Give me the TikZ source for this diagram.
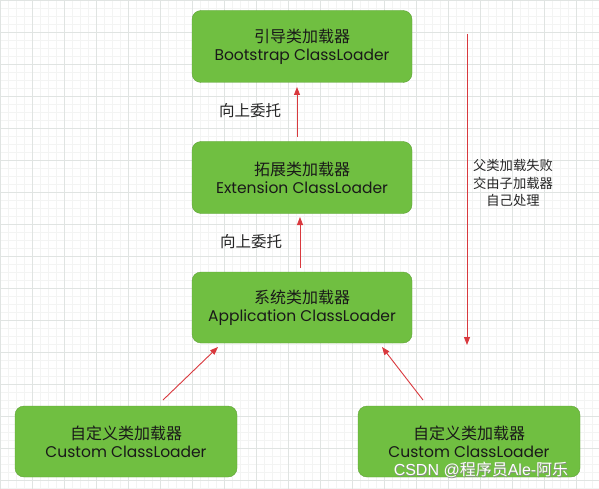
\documentclass[tikz,border=0pt]{standalone}
\usepackage{fontspec}
\setmainfont{Poppins}
\newfontfamily\cjk{Noto Sans CJK SC}
\newfontfamily\wm{Liberation Sans}
\usetikzlibrary{arrows.meta}
\definecolor{boxgreen}{HTML}{70BF41}
\definecolor{arrowred}{HTML}{D9393E}
\definecolor{gridc}{HTML}{EDEFEE}
\tikzset{
  loader/.style={draw=boxgreen!85!black, line width=0.4pt, fill=boxgreen, rounded corners=9pt,
     minimum width=220pt, minimum height=72pt, align=center, font=\fontsize{15.5}{18}\selectfont, text=black!90},
  redarrow/.style={draw=arrowred, line width=0.9pt, -{Triangle[length=8pt,width=6pt]}},
  lbl/.style={font=\cjk\fontsize{15.5}{18}\selectfont, text=black!85, align=center}
}
\begin{document}
\begin{tikzpicture}[x=1pt,y=-1pt]
\useasboundingbox (0,0) rectangle (599,489);
\fill[white] (0,0) rectangle (599,489);
\draw[gridc!70, line width=0.3pt] (0,0) grid[step=8pt] (599,489);
\draw[gridc!170!white, line width=0.5pt] (-14,-12) grid[step=32pt] (599,489);
% boxes
\node[loader] (boot) at (302,46.5) {{\cjk\fontsize{16}{18}\selectfont 引导类加载器}\\Bootstrap ClassLoader};
\node[loader] (ext) at (302,177.5) {{\cjk\fontsize{16}{18}\selectfont 拓展类加载器}\\Extension ClassLoader};
\node[loader, minimum height=71pt] (app) at (302,307.5) {{\cjk\fontsize{16}{18}\selectfont 系统类加载器}\\Application ClassLoader};
\node[loader, minimum width=222pt, minimum height=71pt] (cl) at (126,441.5) {{\cjk\fontsize{16}{18}\selectfont 自定义类加载器}\\Custom ClassLoader};
\node[loader, minimum width=222pt, minimum height=71pt] (cr) at (469,441.5) {{\cjk\fontsize{16}{18}\selectfont 自定义类加载器}\\Custom ClassLoader};
% coordinates for arrows
\coordinate (a1s) at (297,137);
\coordinate (a1e) at (297,87);
\coordinate (a2s) at (300,268);
\coordinate (a2e) at (300,217);
\coordinate (a3s) at (163,400);
\coordinate (a3e) at (218,347);
\coordinate (a4s) at (423,400);
\coordinate (a4e) at (382,347);
\coordinate (ds) at (467,34);
\coordinate (de) at (467,345);
\draw[redarrow] (a1s) -- (a1e);
\draw[redarrow] (a2s) -- (a2e);
\draw[redarrow] (a3s) -- (a3e);
\draw[redarrow] (a4s) -- (a4e);
\draw[redarrow] (ds) -- (de);
% labels
\node[lbl] (l1) at (250,111) {向上委托};
\node[lbl] (l2) at (251,242) {向上委托};
\node[lbl, font=\cjk\fontsize{13.3}{17.5}\selectfont] (l3) at (513,183) {父类加载失败\\交由子加载器\\自己处理};
% watermark
\node[font=\wm\fontsize{16}{18}\selectfont, text=black!45] at (481.6,470.6) {CSDN @{\cjk 程序员}Ale-{\cjk 阿乐}};
\node[font=\wm\fontsize{16}{18}\selectfont, text=white] (wm) at (481,470) {CSDN @{\cjk 程序员}Ale-{\cjk 阿乐}};
\end{tikzpicture}
\end{document}
